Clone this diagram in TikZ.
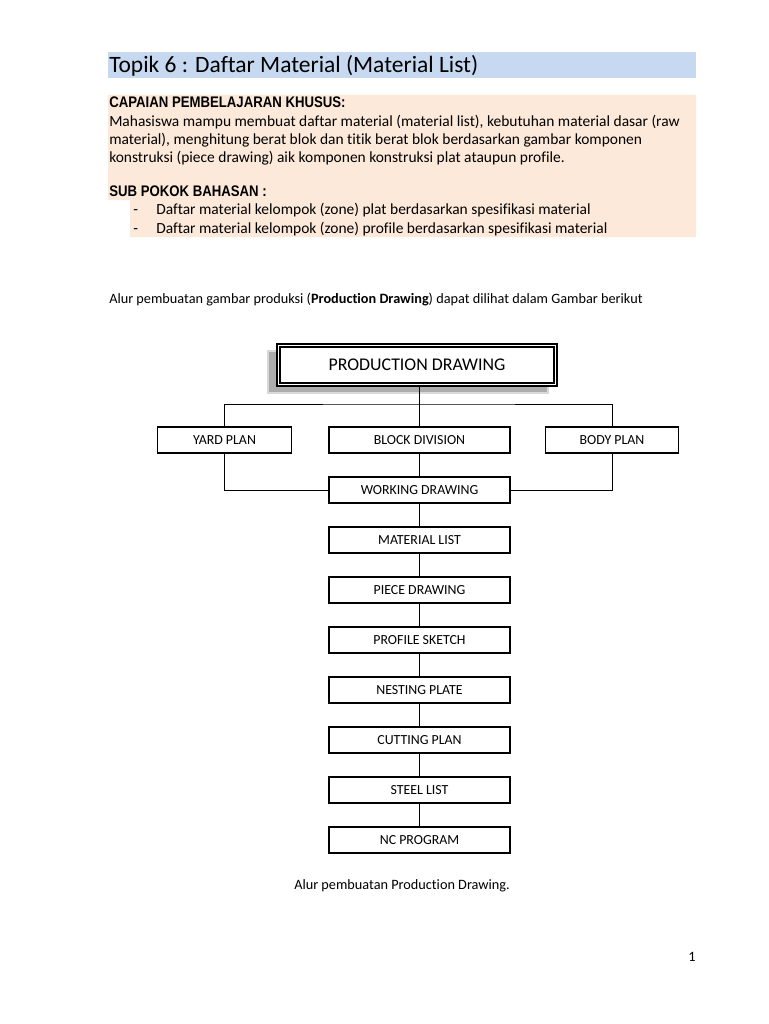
\documentclass[tikz,border=0pt]{standalone}
\usepackage{fontspec}
\setmainfont{Carlito}[Ligatures=CommonOff]
\newfontfamily\headfont[FakeStretch=0.86]{Liberation Sans}
\usetikzlibrary{positioning,shadows}
\definecolor{titleblue}{HTML}{C6D9F1}
\definecolor{peach}{HTML}{FDE9D9}
\begin{document}
\begin{tikzpicture}[x=.75pt, y=-.75pt, font=\fontsize{11.6}{14}\selectfont,
	txt/.style={anchor=base west, inner sep=0pt},
	head/.style={txt, font=\headfont\bfseries\fontsize{11.5}{13}\selectfont},
	note/.style={font=\fontsize{10.7}{13}\selectfont},
	box/.style={draw, line width=.9pt, minimum width=135.75pt, minimum height=19.5pt, inner sep=0pt, font=\fontsize{10.4}{12}\selectfont},
	sidebox/.style={box, minimum width=100pt},
	pdbox/.style={draw, line width=.8pt, fill=white, minimum width=210pt, minimum height=31.5pt, font=\fontsize{13.4}{15}\selectfont,
		drop shadow={shadow xshift=-6.75pt, shadow yshift=-5.25pt, fill=gray!65, draw=gray!30, line width=1pt, opacity=1}},
	link/.style={line width=.75pt}]
	\useasboundingbox (0,0) rectangle (768,1024);
	% heading
	\fill[titleblue] (108,52) rectangle (696,78);
	\node[txt, font=\fontsize{17.6}{20}\selectfont] (title) at (109,72.5) {Topik 6 : Daftar Material (Material List)};
	\fill[peach] (108,95)--(696,95)--(696,237)--(130,237)--(130,200)--(108,200)--cycle;
	\node[head] (cpk) at (109,108) {CAPAIAN PEMBELAJARAN KHUSUS:};
	\node[txt] (cpk1) at (109,126) {Mahasiswa mampu membuat daftar material (material list), kebutuhan material dasar (raw};
	\node[txt] (cpk2) at (109,144) {material), menghitung berat blok dan titik berat blok berdasarkan gambar komponen};
	\node[txt] (cpk3) at (109,162) {konstruksi (piece drawing) aik komponen konstruksi plat ataupun profile.};
	\node[head] (spb) at (109,196) {SUB POKOK BAHASAN :};
	\node[txt] (dash1) at (133,214) {-};
	\node[txt] (spb1) at (156,214) {Daftar material kelompok (zone) plat berdasarkan spesifikasi material};
	\node[txt] (dash2) at (133,233) {-};
	\node[txt] (spb2) at (156,233) {Daftar material kelompok (zone) profile berdasarkan spesifikasi material};
	\node[txt, note] (intro) at (109,303) {Alur pembuatan gambar produksi (\textbf{Production Drawing}) dapat dilihat dalam Gambar berikut};
	% chart
	\node[pdbox] (pd) at (417,365) {PRODUCTION DRAWING};
	\draw[line width=2pt] ([shift={(2.6pt,-2.6pt)}]pd.north west) rectangle ([shift={(-2.6pt,2.6pt)}]pd.south east);
	\node[sidebox] (yard) at (224.5,440) {YARD PLAN};
	\node[box] (block) at (419.5,440) {BLOCK DIVISION};
	\node[sidebox] (body) at (612,440) {BODY PLAN};
	\node[box] (wd) at (419.5,490) {WORKING DRAWING};
	\node[box, below=17.1pt of wd] (mat) {MATERIAL LIST};
	\node[box, below=17.1pt of mat] (piece) {PIECE DRAWING};
	\node[box, below=17.1pt of piece] (sketch) {PROFILE SKETCH};
	\node[box, below=17.1pt of sketch] (nest) {NESTING PLATE};
	\node[box, below=17.1pt of nest] (cut) {CUTTING PLAN};
	\node[box, below=17.1pt of cut] (steel) {STEEL LIST};
	\node[box, below=17.1pt of steel] (nc) {NC PROGRAM};
	\coordinate (bar) at (419.5,404);
	\draw[link] (block.north) -- (block.north |- pd.south);
	\draw[link] (yard.north) |- (bar) -| (body.north);
	\draw[link] (yard.south) |- (wd.west);
	\draw[link] (body.south) |- (wd.east);
	\foreach \a/\b in {block/wd, wd/mat, mat/piece, piece/sketch, sketch/nest, nest/cut, cut/steel, steel/nc}
	\draw[link] (\a) -- (\b);
	\node[anchor=base, inner sep=0pt, note] (caption) at (402,889) {Alur pembuatan Production Drawing.};
	\node[txt, note] (pageno) at (688,961) {1};
\end{tikzpicture}
\end{document}
